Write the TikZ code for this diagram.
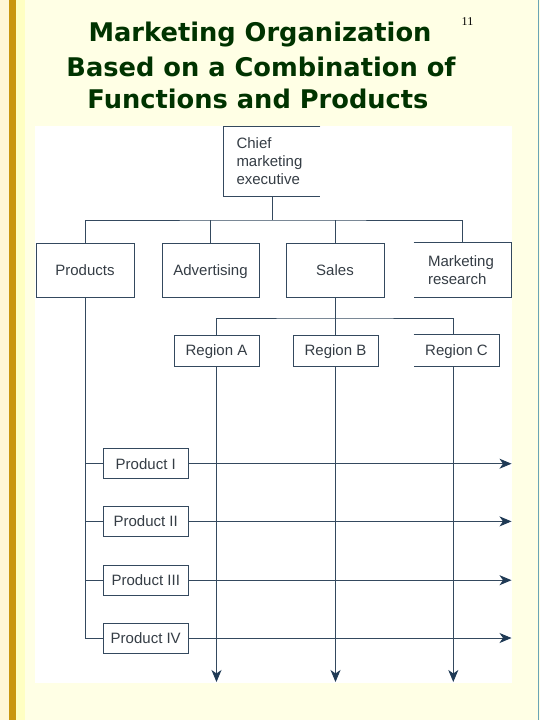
\documentclass[tikz,border=0pt]{standalone}
\usepackage{fontspec}
\usetikzlibrary{arrows.meta}
\newfontfamily\chartfont{Liberation Sans}
\newfontfamily\titlefont{DejaVu Sans}
\newfontfamily\numfont{Liberation Serif}
\definecolor{bgc}{HTML}{FFFFE5}
\definecolor{stripa}{HTML}{FFF6D6}
\definecolor{golds}{HTML}{C9960F}
\definecolor{stripb}{HTML}{FFFFC2}
\definecolor{edgec}{HTML}{6AA5B5}
\definecolor{titlec}{HTML}{003300}
\definecolor{linec}{HTML}{34495E}
\definecolor{arrowc}{HTML}{1F3A55}
\definecolor{textc}{HTML}{353D45}
\begin{document}
\begin{tikzpicture}[x=1pt,y=-1pt,
  orgbox/.style={draw=linec, line width=0.9pt, fill=white, text=textc,
    font={\fontsize{15}{18}\selectfont\chartfont}, inner sep=0pt, align=center},
  onebox/.style={orgbox, text height=11.5pt, text depth=0.8pt},
  openbox/.style={orgbox, draw=none},
  titletext/.style={anchor=base, text=titlec, inner sep=0pt,
    font={\fontsize{25.7}{30}\selectfont\titlefont\bfseries}},
  link/.style={draw=linec, line width=0.9pt},
  arr/.style={link, -{Stealth[length=12pt,width=10pt,inset=3.5pt,color=arrowc]}}
]
\useasboundingbox (0,0) rectangle (540,720);
% background
\fill[bgc] (0,0) rectangle (540,720);
\fill[stripa] (0,0) rectangle (9,720);
\fill[golds] (9,0) rectangle (16,720);
\fill[stripb] (16,0) rectangle (25,720);
\draw[edgec, line width=1pt] (538,0) -- (538,720);
\fill[white] (35,126) rectangle (512,683);

% title
\node[titletext] (title1) at (260,41.7) {Marketing Organization};
\node[titletext] (title2) at (261,76) {Based on a Combination of};
\node[titletext] (title3) at (258,108.5) {Functions and Products};
\node[anchor=base, inner sep=0pt, font={\fontsize{12}{14}\selectfont\numfont}] (pagenum) at (467.5,25) {11};

% top level
\node[openbox, minimum width=96pt, minimum height=69pt, text width=71pt,
  inner xsep=12.5pt, align=left] (chief) at (272,161.5) {Chief\\marketing\\executive};
\draw[link] (chief.north east) -- (chief.north west) -- (chief.south west) -- (chief.south east);

% functions
\node[onebox, minimum width=98pt, minimum height=54pt] (prod) at (85,270) {Products};
\node[onebox, minimum width=97pt, minimum height=54pt] (adv) at (210.5,270) {Advertising};
\node[onebox, minimum width=98pt, minimum height=54pt] (sales) at (335,270) {Sales};
\node[openbox, minimum width=97pt, minimum height=54pt, text width=69pt,
  inner xsep=14pt, align=left] (mr) at (462.5,270) {Marketing\\research};
\draw[link] (mr.north west) -- (mr.north east) -- (mr.south east) -- (mr.south west);

\coordinate (bus) at (272,220);
\draw[link] (chief.south) -- (bus);
\draw[link] (prod.north) |- (bus) -| (mr.north);
\draw[link] (adv.north) -- (adv.north |- bus);
\draw[link] (sales.north) -- (sales.north |- bus);

% regions
\node[onebox, minimum width=85pt, minimum height=31pt] (rega) at (216.5,350.5) {Region A};
\node[onebox, minimum width=85pt, minimum height=31pt] (regb) at (335.5,350.5) {Region B};
\node[openbox, text height=11.5pt, text depth=0.8pt, minimum width=85pt, minimum height=31pt] (regc) at (456.5,350.5) {Region C};
\draw[link] (regc.north west) -- (regc.north east) -- (regc.south east) -- (regc.south west);

\coordinate (rbus) at (335,318);
\coordinate (rcn) at (453.3,335);
\coordinate (rcs) at (453.3,366);
\draw[link] (sales.south) -- (rbus);
\draw[link] (rega.north) |- (rbus) -| (rcn);
\draw[link] (regb.north) -- (regb.north |- rbus);

\coordinate (enda) at (216.5,682);
\coordinate (endb) at (335.5,682);
\coordinate (endc) at (453.3,682);
\draw[arr] (rega.south) -- (enda);
\draw[arr] (regb.south) -- (endb);
\draw[arr] (rcs) -- (endc);

% products
\node[onebox, minimum width=85.5pt, minimum height=30pt] (p1) at (145.75,463.7) {Product I};
\node[onebox, minimum width=85.5pt, minimum height=30pt] (p2) at (145.75,521.4) {Product II};
\node[onebox, minimum width=85.5pt, minimum height=30pt] (p3) at (145.75,580.2) {Product III};
\node[onebox, minimum width=85.5pt, minimum height=30pt] (p4) at (145.75,638) {Product IV};

\draw[link] (prod.south) |- (p4.west);
\draw[link] (prod.south |- p1.west) -- (p1.west);
\draw[link] (prod.south |- p2.west) -- (p2.west);
\draw[link] (prod.south |- p3.west) -- (p3.west);

\coordinate (e1) at (511.5,463.7);
\coordinate (e2) at (511.5,521.4);
\coordinate (e3) at (511.5,580.2);
\coordinate (e4) at (511.5,638);
\draw[arr] (p1.east) -- (e1);
\draw[arr] (p2.east) -- (e2);
\draw[arr] (p3.east) -- (e3);
\draw[arr] (p4.east) -- (e4);
\end{tikzpicture}
\end{document}
